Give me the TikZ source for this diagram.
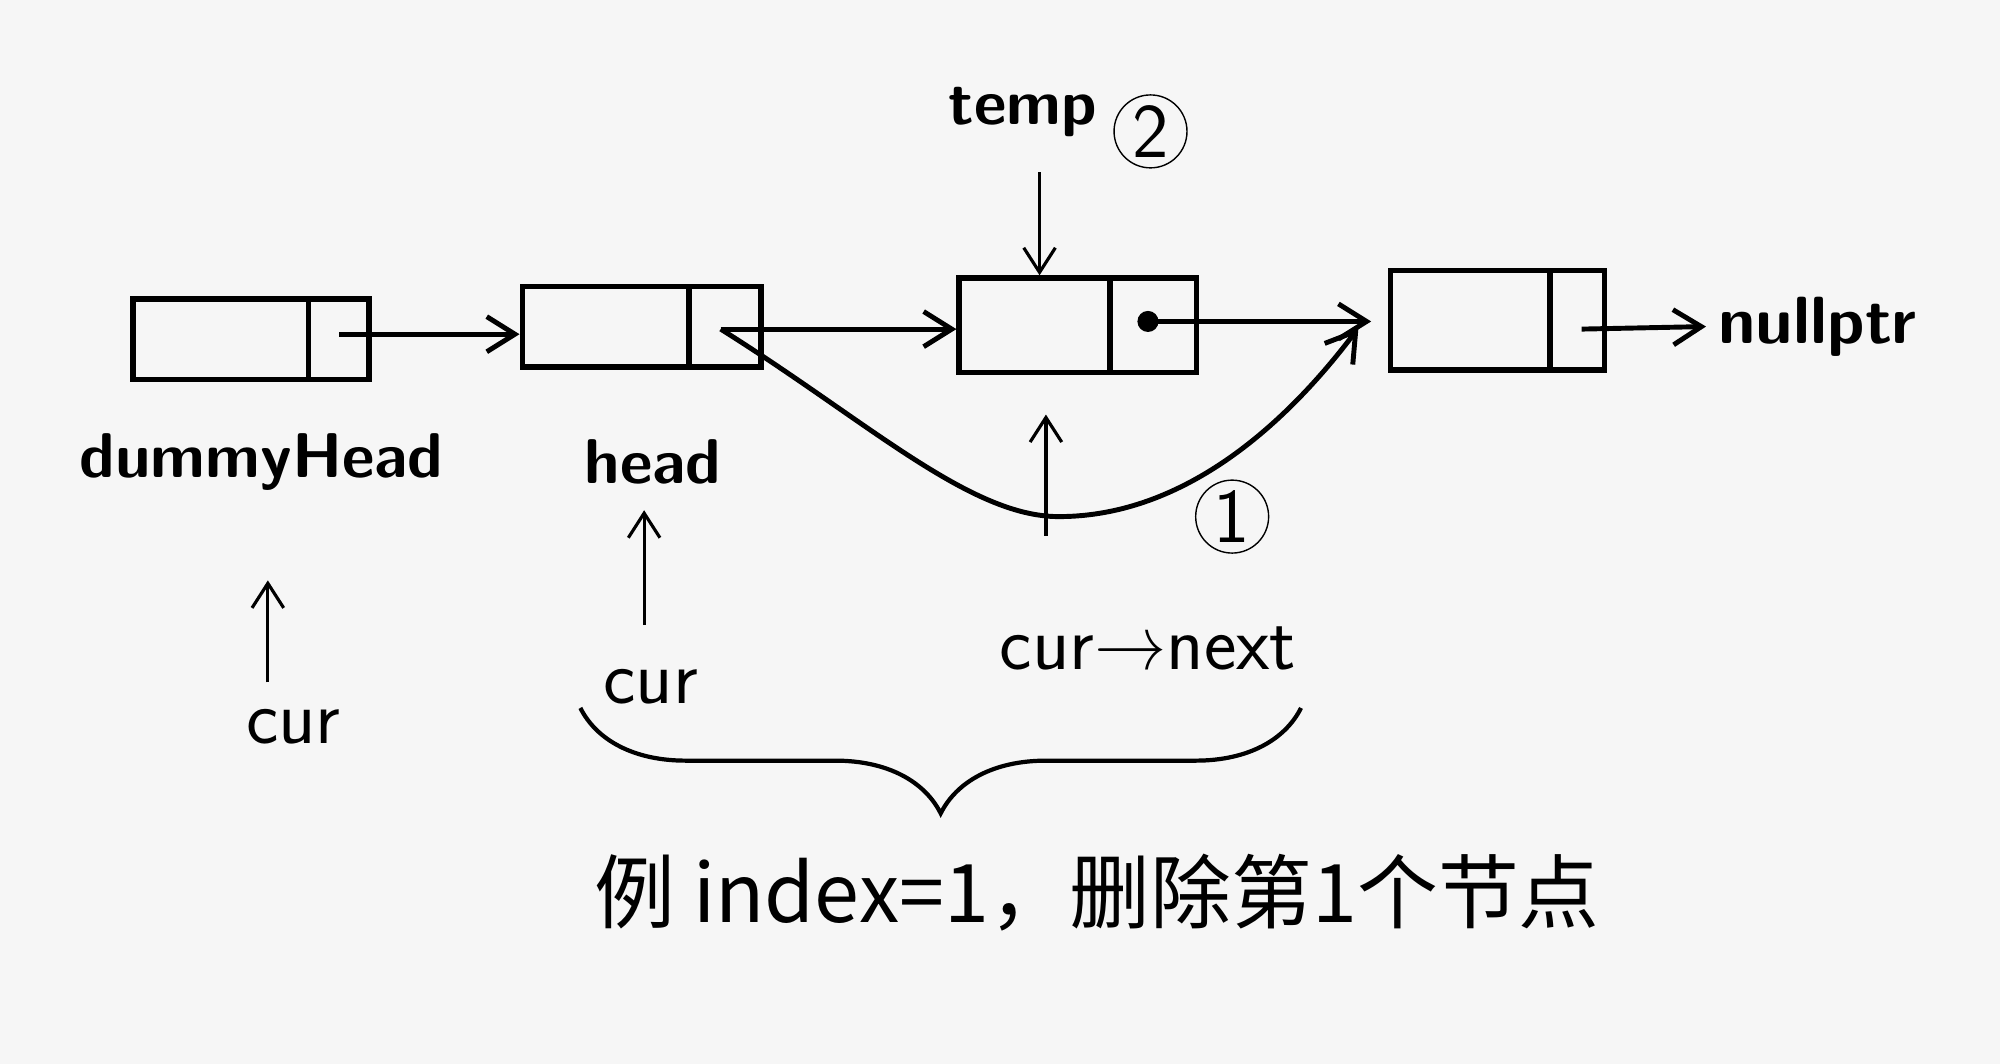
\documentclass[tikz,border=0pt]{standalone}
\usepackage{fontspec}
\newfontfamily\cjk{Noto Sans CJK SC}
\usetikzlibrary{decorations.pathreplacing,arrows.meta}
\begin{document}
\begin{tikzpicture}[x=0.012755cm,y=-0.012755cm,
  box/.style={draw,line width=1.6pt},
  arr/.style={line width=1.4pt,-{Straight Barb[length=8pt,width=10pt]}},
  thin arr/.style={line width=0.9pt,-{Straight Barb[length=7pt,width=9pt]}},
  lbl/.style={font=\sffamily\bfseries\fontsize{18}{20}\selectfont},
  lbl2/.style={font=\sffamily\fontsize{22}{24}\selectfont}]
\fill[white!93!gray] (0,0) rectangle (1568,834);
\useasboundingbox (0,0) rectangle (1568,834);
% nodes
\node[box,minimum width=185*0.12755mm,minimum height=63*0.12755mm,inner sep=0] (n1) at (197,266) {};
\node[box,minimum width=187*0.12755mm,minimum height=63*0.12755mm,inner sep=0] (n2) at (503,256) {};
\node[box,minimum width=186*0.12755mm,minimum height=74*0.12755mm,inner sep=0] (n3) at (845,255) {};
\node[box,minimum width=168*0.12755mm,minimum height=78*0.12755mm,inner sep=0] (n4) at (1174,251) {};
\draw[line width=1.6pt] (242,235)--(242,298) (540,225)--(540,288) (870,218)--(870,292) (1215,212)--(1215,290);
\coordinate (p1) at (266,262); \coordinate (p2) at (565,258); \coordinate (p3) at (900,252); \coordinate (p4) at (1240,258);
\fill (p3) circle (3pt);
\draw[arr] (p1) -- (n1.east |- p1) -- (n2.west |- p1);
\draw[arr] (p2) -- (n3.west |- p2);
\draw[arr] (p3) -- (1075,252);
\coordinate (n4in) at (1065,257);
\node[lbl,font=\sffamily\bfseries\fontsize{19}{21}\selectfont] (np) at (1425,256) {nullptr};
\draw[arr] (p4) -- (np.west);
\draw[arr] (p2) .. controls (680,330) and (760,405) .. (830,405) .. controls (930,405) and (1010,330) .. (n4in);
\node[draw,circle,inner sep=1pt,lbl2] (c1) at (966,405) {1};
% temp
\node[lbl] (temp) at (802,88) {temp};
\node[draw,circle,inner sep=1pt,lbl2] (c2) at (902,103) {2};
\coordinate (t1) at (815,135);
\draw[thin arr] (t1) -- (n3.north -| t1);
\node[lbl] (dh) at (205,362) {dummyHead};
\node[lbl] (hd) at (512,362) {head};
\node[lbl2] (cur1) at (230,570) {cur};
\node[lbl2] (cur2) at (510,538) {cur};
\node[lbl2] (cn) at (900,508) {cur→next};
\draw[thin arr] (210,535) -- (210,455);
\draw[thin arr] (505,490) -- (505,400);
\draw[thin arr] (820,420) -- (820,325);
\draw[line width=1.2pt,decorate,decoration={brace,mirror,amplitude=30pt}] (455,555) -- (1020,555);
\node[font=\cjk\fontsize{23}{25}\selectfont] (ex) at (860,700) {例 index=1，删除第1个节点};
\end{tikzpicture}
\end{document}
